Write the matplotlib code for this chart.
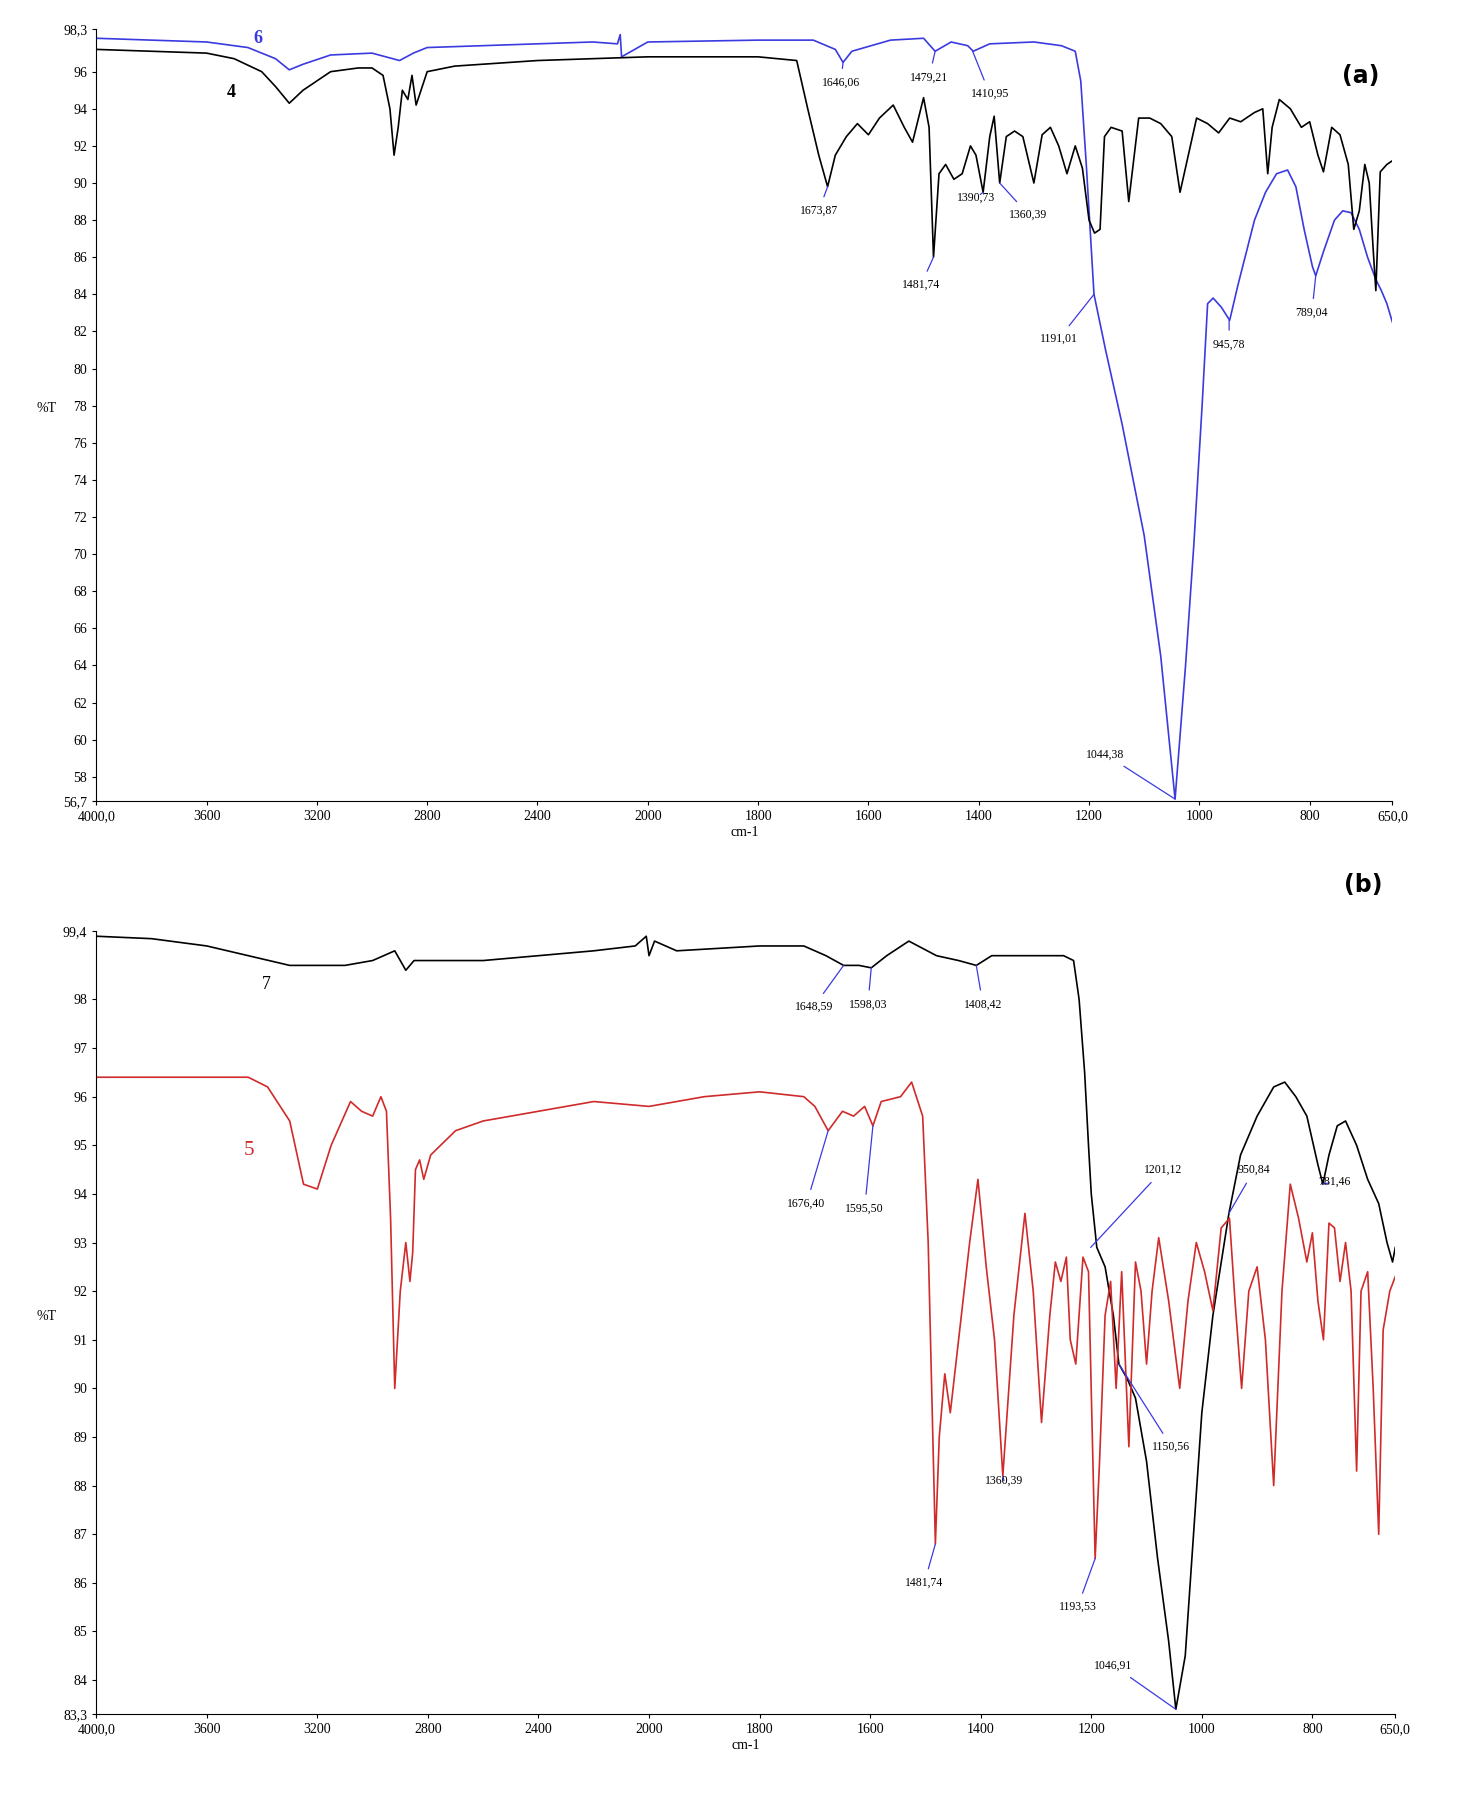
import matplotlib
matplotlib.use("Agg")
import matplotlib.pyplot as plt
import numpy as np

# ── Panel (a) spectra: (wavenumber, %T) ─────────────────────────────────────
a6_wn = [4000, 3800, 3600, 3450, 3350, 3300, 3250, 3150, 3000, 2950, 2900, 2850, 2800, 2600, 2400,
         2200, 2110, 2100, 2095, 2000, 1800, 1700, 1660, 1646, 1630, 1560, 1500, 1479, 1450, 1420,
         1410, 1380, 1300, 1250, 1225, 1215, 1205, 1198, 1191, 1170, 1140, 1100, 1070, 1044, 1025,
         1010, 995, 985, 975, 960, 945, 930, 900, 880, 860, 840, 825, 810, 795, 789, 775, 755, 740,
         725, 710, 695, 680, 670, 660, 650]
a6_t = [97.8, 97.7, 97.6, 97.3, 96.7, 96.1, 96.4, 96.9, 97.0, 96.8, 96.6, 97.0, 97.3, 97.4, 97.5,
        97.6, 97.5, 98.0, 96.8, 97.6, 97.7, 97.7, 97.2, 96.5, 97.1, 97.7, 97.8, 97.1, 97.6, 97.4,
        97.1, 97.5, 97.6, 97.4, 97.1, 95.5, 91.0, 87.5, 84.0, 81.0, 77.0, 71.0, 64.5, 56.8, 64.0,
        70.5, 78.0, 83.5, 83.8, 83.3, 82.6, 84.5, 88.0, 89.5, 90.5, 90.7, 89.8, 87.5, 85.5, 85.0,
        86.3, 88.0, 88.5, 88.4, 87.5, 86.0, 84.8, 84.2, 83.5, 82.5]

a4_wn = [4000, 3800, 3600, 3500, 3400, 3350, 3300, 3250, 3150, 3050, 3000, 2960, 2935, 2920, 2905,
         2890, 2870, 2855, 2840, 2800, 2700, 2400, 2200, 2000, 1800, 1730, 1710, 1690, 1674, 1660,
         1640, 1620, 1600, 1580, 1555, 1535, 1520, 1500, 1490, 1482, 1472, 1460, 1445, 1430, 1415,
         1405, 1392, 1380, 1372, 1362, 1350, 1335, 1320, 1300, 1285, 1270, 1255, 1240, 1225, 1212,
         1200, 1190, 1180, 1172, 1160, 1140, 1128, 1120, 1110, 1090, 1070, 1050, 1035, 1020, 1005,
         985, 965, 945, 925, 900, 885, 876, 868, 855, 835, 815, 800, 785, 775, 760, 745, 730, 720,
         710, 700, 692, 685, 680, 672, 660, 650]
a4_t = [97.2, 97.1, 97.0, 96.7, 96.0, 95.2, 94.3, 95.0, 96.0, 96.2, 96.2, 95.8, 94.0, 91.5, 93.0,
        95.0, 94.5, 95.8, 94.2, 96.0, 96.3, 96.6, 96.7, 96.8, 96.8, 96.6, 94.0, 91.5, 89.8, 91.5,
        92.5, 93.2, 92.6, 93.5, 94.2, 93.0, 92.2, 94.6, 93.0, 86.0, 90.5, 91.0, 90.2, 90.5, 92.0,
        91.5, 89.5, 92.5, 93.6, 90.0, 92.5, 92.8, 92.5, 90.0, 92.6, 93.0, 92.0, 90.5, 92.0, 90.8,
        88.0, 87.3, 87.5, 92.5, 93.0, 92.8, 89.0, 91.0, 93.5, 93.5, 93.2, 92.5, 89.5, 91.5, 93.5,
        93.2, 92.7, 93.5, 93.3, 93.8, 94.0, 90.5, 93.0, 94.5, 94.0, 93.0, 93.3, 91.5, 90.6, 93.0,
        92.6, 91.0, 87.5, 88.5, 91.0, 90.0, 86.5, 84.2, 90.6, 91.0, 91.2]

a_labels = ["1646,06", "1479,21", "1410,95", "1673,87", "1390,73", "1360,39",
            "1481,74", "1191,01", "945,78", "789,04", "1044,38"]
a_peak_wn = [1646, 1479, 1411, 1674, 1392, 1362, 1482, 1191, 946, 789, 1044]
a_peak_t = [96.5, 97.1, 97.1, 89.8, 89.5, 90.0, 86.0, 84.0, 82.6, 85.0, 56.8]
a_text_wn = [1650, 1490, 1380, 1690, 1405, 1310, 1505, 1255, 946, 796, 1170]
a_text_t = [95.4, 95.7, 94.8, 88.5, 89.2, 88.3, 84.5, 81.6, 81.3, 83.0, 59.2]

# ── Panel (b) spectra ────────────────────────────────────────────────────────
b7_wn = [4000, 3800, 3600, 3450, 3300, 3100, 3000, 2920, 2880, 2850, 2800, 2600, 2400, 2200,
         2050, 2010, 2000, 1990, 1950, 1800, 1720, 1680, 1648, 1620, 1598, 1570, 1530, 1480, 1440,
         1408, 1380, 1300, 1250, 1232, 1222, 1212, 1205, 1200, 1190, 1175, 1160, 1150, 1135, 1120,
         1100, 1080, 1060, 1047, 1030, 1015, 1000, 980, 951, 930, 900, 870, 850, 830, 810, 790,
         781, 770, 755, 740, 720, 700, 680, 665, 655, 650]
b7_t = [99.3, 99.25, 99.1, 98.9, 98.7, 98.7, 98.8, 99.0, 98.6, 98.8, 98.8, 98.8, 98.9, 99.0,
        99.1, 99.3, 98.9, 99.2, 99.0, 99.1, 99.1, 98.9, 98.7, 98.7, 98.65, 98.9, 99.2, 98.9, 98.8,
        98.7, 98.9, 98.9, 98.9, 98.8, 98.0, 96.5, 95.0, 94.0, 92.9, 92.5, 91.5, 90.5, 90.2, 89.8,
        88.5, 86.5, 84.8, 83.4, 84.5, 87.0, 89.5, 91.5, 93.6, 94.8, 95.6, 96.2, 96.3, 96.0, 95.6,
        94.6, 94.2, 94.8, 95.4, 95.5, 95.0, 94.3, 93.8, 93.0, 92.6, 92.9]

b5_wn = [4000, 3700, 3450, 3380, 3300, 3250, 3200, 3150, 3080, 3040, 3000, 2970, 2950, 2935,
         2920, 2900, 2880, 2865, 2855, 2845, 2830, 2815, 2790, 2700, 2600, 2400, 2200, 2000, 1900,
         1800, 1720, 1700, 1676, 1650, 1630, 1610, 1595, 1580, 1545, 1525, 1505, 1495, 1482, 1475,
         1465, 1455, 1440, 1420, 1405, 1390, 1375, 1360, 1340, 1320, 1305, 1290, 1275, 1265, 1255,
         1245, 1238, 1228, 1215, 1205, 1193, 1185, 1175, 1165, 1155, 1145, 1132, 1120, 1110, 1100,
         1090, 1078, 1060, 1040, 1025, 1010, 995, 980, 965, 950, 940, 928, 915, 900, 885, 870,
         855, 840, 825, 810, 800, 790, 780, 770, 760, 750, 740, 730, 720, 712, 700, 690, 680,
         672, 660, 650]
b5_t = [96.4, 96.4, 96.4, 96.2, 95.5, 94.2, 94.1, 95.0, 95.9, 95.7, 95.6, 96.0, 95.7, 93.5,
        90.0, 92.0, 93.0, 92.2, 92.8, 94.5, 94.7, 94.3, 94.8, 95.3, 95.5, 95.7, 95.9, 95.8, 96.0,
        96.1, 96.0, 95.8, 95.3, 95.7, 95.6, 95.8, 95.4, 95.9, 96.0, 96.3, 95.6, 93.0, 86.8, 89.0,
        90.3, 89.5, 91.0, 93.0, 94.3, 92.5, 91.0, 88.2, 91.5, 93.6, 92.0, 89.3, 91.5, 92.6, 92.2,
        92.7, 91.0, 90.5, 92.7, 92.4, 86.5, 88.5, 91.5, 92.2, 90.0, 92.4, 88.8, 92.6, 92.0, 90.5,
        92.0, 93.1, 91.8, 90.0, 91.8, 93.0, 92.4, 91.6, 93.3, 93.5, 91.8, 90.0, 92.0, 92.5, 91.0,
        88.0, 92.0, 94.2, 93.5, 92.6, 93.2, 91.8, 91.0, 93.4, 93.3, 92.2, 93.0, 92.0, 88.3, 92.0,
        92.4, 90.0, 87.0, 91.2, 92.0, 92.3]

b_labels = ["1648,59", "1598,03", "1408,42", "1676,40", "1595,50", "1201,12", "950,84",
            "781,46", "1150,56", "1360,39", "1481,74", "1193,53", "1046,91"]
b_peak_wn = [1648, 1598, 1408, 1676, 1595, 1201, 951, 781, 1150, 1360, 1482, 1193, 1047]
b_peak_t = [98.7, 98.65, 98.7, 95.3, 95.4, 92.9, 93.6, 94.2, 90.5, 88.2, 86.8, 86.5, 83.4]
b_text_wn = [1702, 1604, 1396, 1715, 1610, 1070, 905, 760, 1055, 1358, 1502, 1225, 1160]
b_text_t = [97.85, 97.9, 97.9, 93.8, 93.7, 94.5, 94.5, 94.25, 88.8, 88.1, 86.0, 85.5, 84.3]

XTICKS = [4000, 3600, 3200, 2800, 2400, 2000, 1800, 1600, 1400, 1200, 1000, 800, 650]
SERIF = ["Liberation Serif", "DejaVu Serif"]
BLUE = "#3a3ae0"
RED = "#d02a2a"


# spectrometer x axis: scale doubles below 2000 cm-1
def fwd(w):
    w = np.asarray(w, dtype=float)
    return np.where(w >= 2000, w, 2 * w - 2000)


def inv(u):
    u = np.asarray(u, dtype=float)
    return np.where(u >= 2000, u, (u + 2000) / 2)


def setup_axis(ax, ylo, yhi, yticks):
    ax.set_xscale("function", functions=(fwd, inv))
    ax.set_xlim(4000, 650)
    ax.set_ylim(ylo, yhi)
    ax.set_xticks(XTICKS)
    ax.set_xticklabels(["4000,0"] + [str(t) for t in XTICKS[1:-1]] + ["650,0"], family=SERIF, fontsize=10)
    ticks = [ylo] + yticks + [yhi]
    ax.set_yticks(ticks)
    ax.set_yticklabels([f"{t:.1f}".replace(".", ",") if t in (ylo, yhi) else f"{t:g}" for t in ticks],
                       family=SERIF, fontsize=10)
    ax.spines["top"].set_visible(False)
    ax.spines["right"].set_visible(False)
    ax.tick_params(length=3, width=0.8)
    ax.set_xlabel("cm-1", family=SERIF, fontsize=10, labelpad=2)
    ax.set_ylabel("%T", family=SERIF, fontsize=10, rotation=0, labelpad=12)


def annotate(ax, labels, pw, pt, tw, tt):
    for lab, x0, y0, x1, y1 in zip(labels, pw, pt, tw, tt):
        ax.annotate(lab, (x0, y0), xytext=(x1, y1), textcoords="data", ha="center", va="center",
                    family=SERIF, fontsize=8.5,
                    arrowprops=dict(arrowstyle="-", color=BLUE, lw=0.9, shrinkA=4, shrinkB=0))


fig = plt.figure(figsize=(14.58, 18.12), dpi=100)

ax1 = fig.add_axes([0.066, 0.558, 0.889, 0.426])
ax1.plot(a6_wn, a6_t, color=BLUE, lw=1.2)
ax1.plot(a4_wn, a4_t, color="black", lw=1.2)
setup_axis(ax1, 56.7, 98.3, list(range(58, 97, 2)))
annotate(ax1, a_labels, a_peak_wn, a_peak_t, a_text_wn, a_text_t)
ax1.text(3413, 97.8, "6", color=BLUE, family=SERIF, fontsize=13, fontweight="bold", ha="center", va="center")
ax1.text(3511, 94.9, "4", color="black", family=SERIF, fontsize=13, fontweight="bold", ha="center", va="center")
ax1.text(0.99, 0.93, "(a)", transform=ax1.transAxes, fontsize=17, fontweight="bold", ha="right")

ax2 = fig.add_axes([0.066, 0.054, 0.891, 0.432])
ax2.plot(b7_wn, b7_t, color="black", lw=1.2)
ax2.plot(b5_wn, b5_t, color=RED, lw=1.2)
setup_axis(ax2, 83.3, 99.4, list(range(84, 99)))
annotate(ax2, b_labels, b_peak_wn, b_peak_t, b_text_wn, b_text_t)
ax2.text(3384, 98.3, "7", color="black", family=SERIF, fontsize=13, ha="center", va="center")
ax2.text(3446, 94.9, "5", color=RED, family=SERIF, fontsize=15, ha="center", va="center")
ax2.text(0.99, 1.05, "(b)", transform=ax2.transAxes, fontsize=17, fontweight="bold", ha="right")

fig.savefig("out.png", dpi=100)
